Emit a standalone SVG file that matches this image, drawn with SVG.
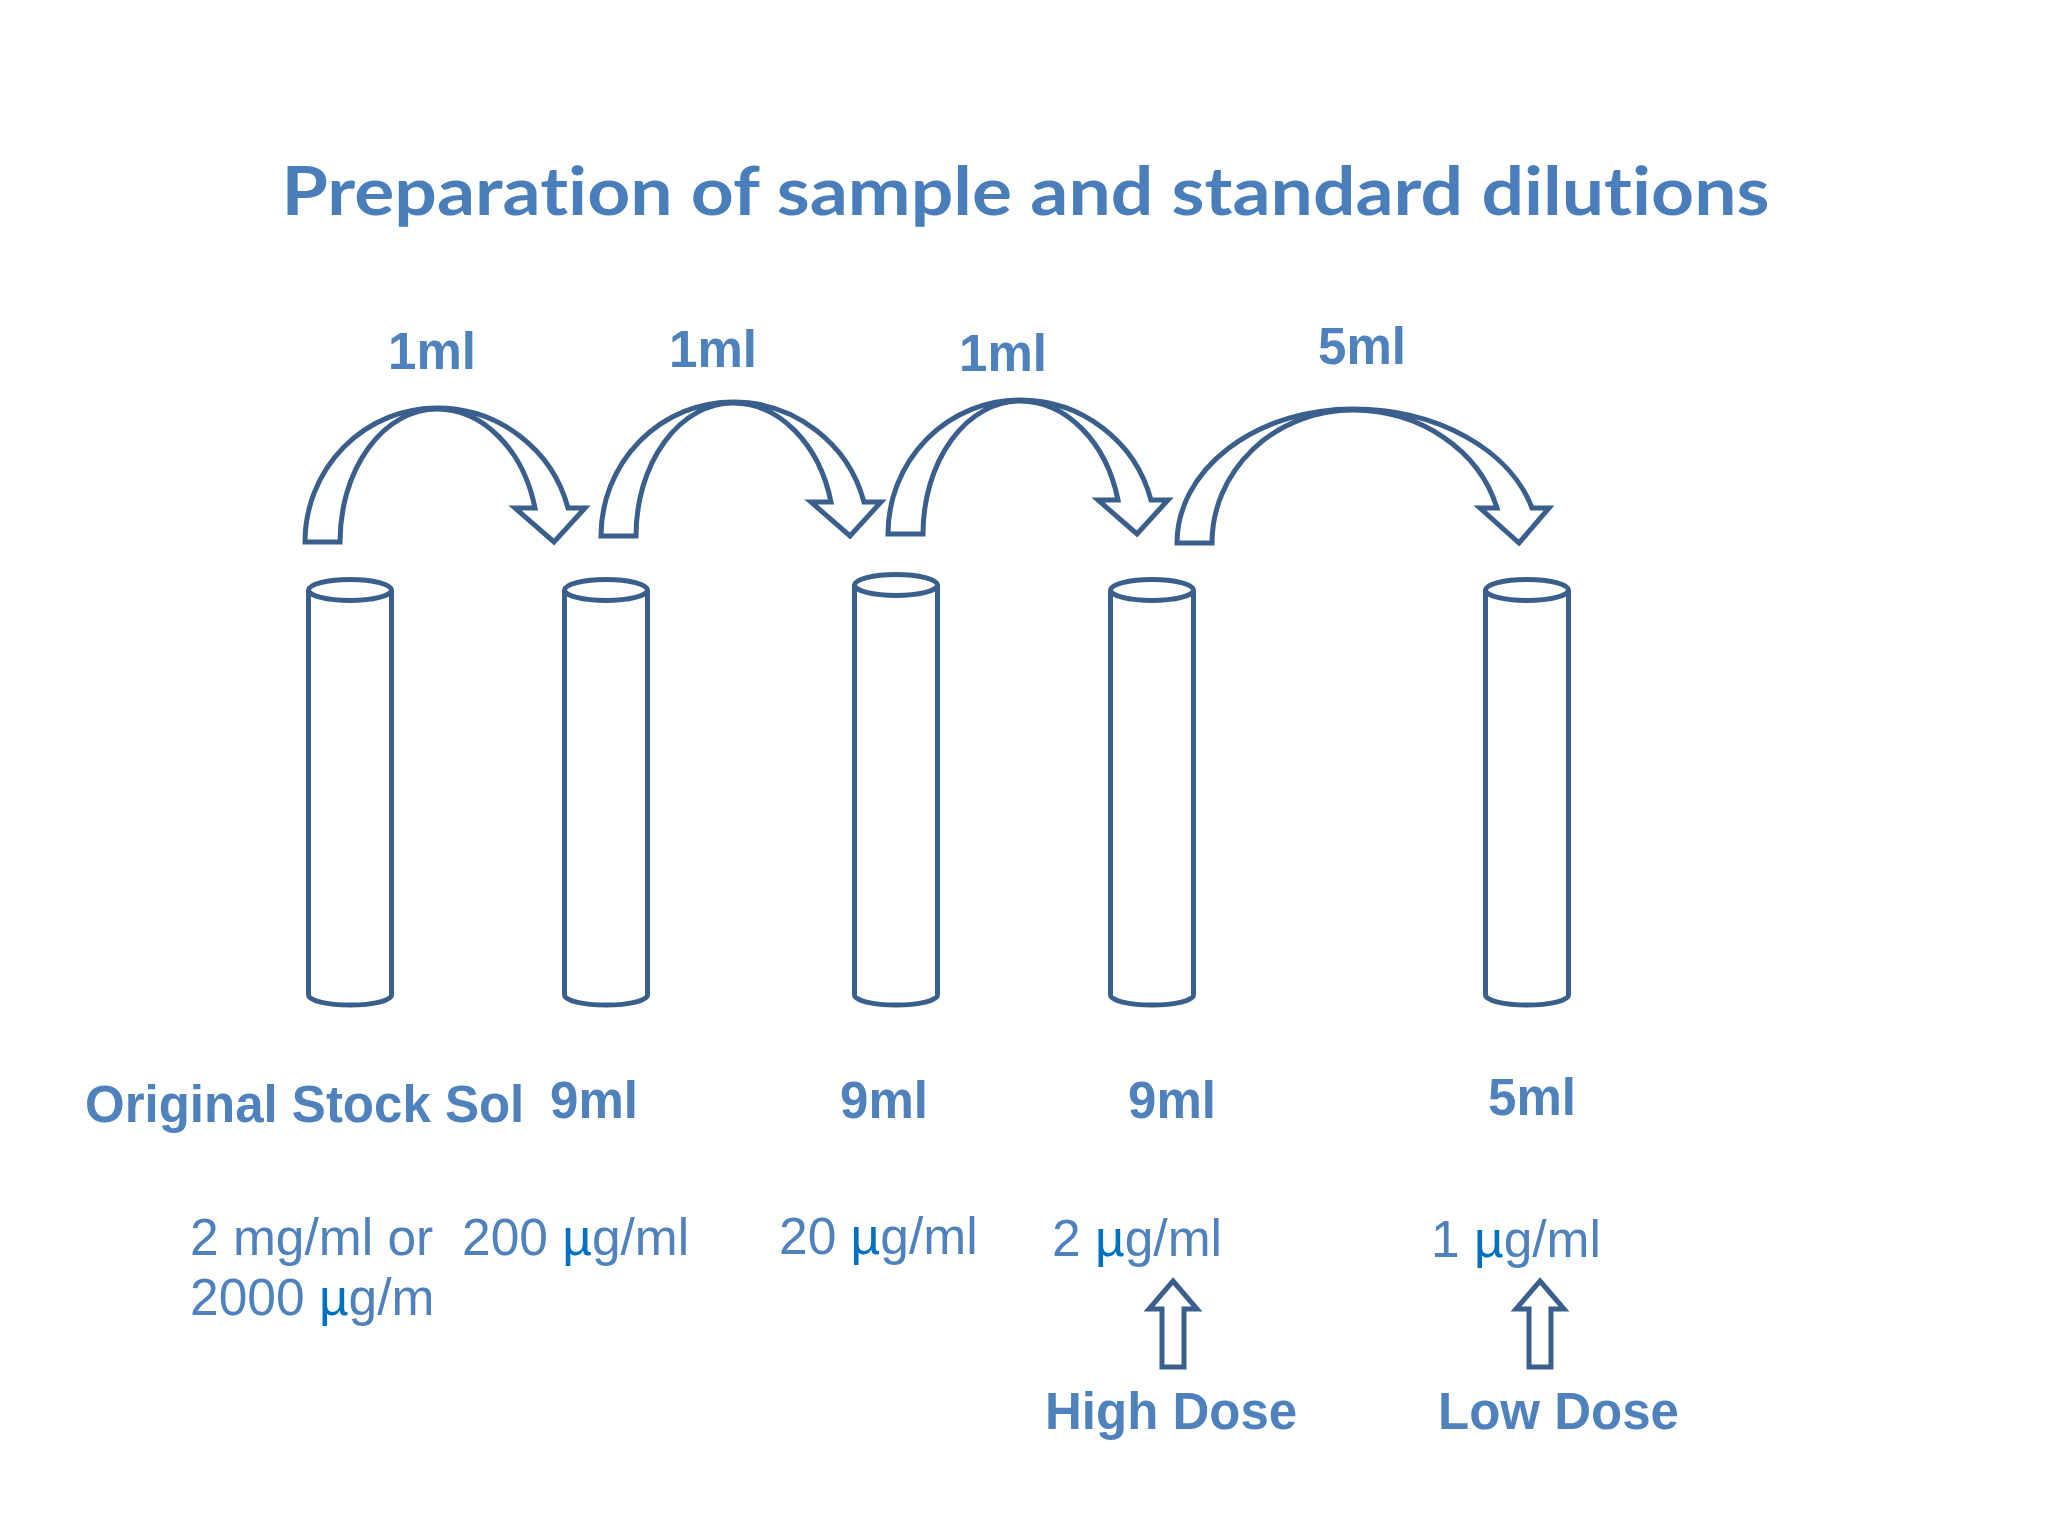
<svg xmlns="http://www.w3.org/2000/svg" xmlns:xlink="http://www.w3.org/1999/xlink" width="2048" height="1536" viewBox="0 0 2048 1536">
  <style>
    .shape { fill: #ffffff; stroke: #3b5f8c; stroke-width: 5; stroke-linejoin: miter; }
    .tube { fill: #ffffff; stroke: #3b5f8c; stroke-width: 5; }
    .title { font-family: Lato, "Open Sans", "Liberation Sans", sans-serif; font-weight: 700; font-size: 67px; fill: #4a7ebb; font-variant-ligatures: none; }
    .bold { font-family: "Liberation Sans", Arial, sans-serif; font-weight: 700; font-size: 51px; fill: #4f81bd; }
    .reg { font-family: "Liberation Sans", Arial, sans-serif; font-size: 51.5px; fill: #4f81bd; }
    .mu { fill: #0070c0; }
  </style>
  <defs>
    <path id="curveA" d="M -132,0 A 132 134 0 0 1 0,-134 A 135.4 134 0 0 1 131,-34 L 148,-34 L 117,0 L 78,-34 L 98,-34 A 101.4 133 0 0 0 0,-133 A 97 133 0 0 0 -97,0 Z"/>
    <path id="curveB" d="M -176,0 A 176 134 0 0 1 0,-134 A 185.4 134 0 0 1 179,-35 L 196,-35 L 166,0 L 127,-35 L 144,-35 A 149.3 133 0 0 0 0,-133 A 141 133 0 0 0 -141,0 Z"/>
    <path id="upArrow" d="M 0,1281 L 24,1309 L 11,1309 L 11,1367 L -11,1367 L -11,1309 L -24,1309 Z"/>
  </defs>
  <rect width="2048" height="1536" fill="#ffffff"/>

  <text id="title" class="title" x="1025.5" y="215" text-anchor="middle" textLength="1488" lengthAdjust="spacingAndGlyphs">Preparation of sample and standard dilutions</text>

  <g id="tube1">
    <path class="tube" d="M 308.5,590 L 308.5,995 A 41.5 10 0 0 0 391.5,995 L 391.5,590"/>
    <ellipse class="tube" cx="350" cy="590" rx="41.5" ry="10.5"/>
  </g>
  <g id="tube2">
    <path class="tube" d="M 564.5,590 L 564.5,995 A 41.5 10 0 0 0 647.5,995 L 647.5,590"/>
    <ellipse class="tube" cx="606" cy="590" rx="41.5" ry="10.5"/>
  </g>
  <g id="tube3">
    <path class="tube" d="M 854.5,585 L 854.5,995 A 41.5 10 0 0 0 937.5,995 L 937.5,585"/>
    <ellipse class="tube" cx="896" cy="585" rx="41.5" ry="10.5"/>
  </g>
  <g id="tube4">
    <path class="tube" d="M 1110.5,590 L 1110.5,995 A 41.5 10 0 0 0 1193.5,995 L 1193.5,590"/>
    <ellipse class="tube" cx="1152" cy="590" rx="41.5" ry="10.5"/>
  </g>
  <g id="tube5">
    <path class="tube" d="M 1485.5,590 L 1485.5,995 A 41.5 10 0 0 0 1568.5,995 L 1568.5,590"/>
    <ellipse class="tube" cx="1527" cy="590" rx="41.5" ry="10.5"/>
  </g>

  <g id="connectors">
    <use xlink:href="#curveA" href="#curveA" class="shape" transform="translate(437,542)"/>
    <use xlink:href="#curveA" href="#curveA" class="shape" transform="translate(733,536)"/>
    <use xlink:href="#curveA" href="#curveA" class="shape" transform="translate(1020,534)"/>
    <use xlink:href="#curveB" href="#curveB" class="shape" transform="translate(1353,543)"/>
    <use xlink:href="#upArrow" href="#upArrow" class="shape" transform="translate(1173,0)"/>
    <use xlink:href="#upArrow" href="#upArrow" class="shape" transform="translate(1540,0)"/>
  </g>

  <g id="transfer-labels">
    <text class="bold" x="432" y="369" text-anchor="middle">1ml</text>
    <text class="bold" x="713" y="367" text-anchor="middle">1ml</text>
    <text class="bold" x="1003" y="371" text-anchor="middle">1ml</text>
    <text class="bold" x="1362" y="364" text-anchor="middle">5ml</text>
  </g>

  <g id="volume-labels">
    <text class="bold" x="85" y="1122">Original Stock Sol</text>
    <text class="bold" x="594" y="1118" text-anchor="middle">9ml</text>
    <text class="bold" x="884" y="1118" text-anchor="middle">9ml</text>
    <text class="bold" x="1172" y="1118" text-anchor="middle">9ml</text>
    <text class="bold" x="1532" y="1115" text-anchor="middle">5ml</text>
  </g>

  <g id="concentration-labels">
    <text class="reg" x="190" y="1255">2 mg/ml or</text>
    <text class="reg" x="190" y="1315">2000 <tspan class="mu">µ</tspan>g/m</text>
    <text class="reg" x="462" y="1255">200 <tspan class="mu">µ</tspan>g/ml</text>
    <text class="reg" x="779" y="1254">20 <tspan class="mu">µ</tspan>g/ml</text>
    <text class="reg" x="1222" y="1256" text-anchor="end">2 <tspan class="mu">µ</tspan>g/ml</text>
    <text class="reg" x="1431" y="1257">1 <tspan class="mu">µ</tspan>g/ml</text>
  </g>

  <g id="dose-labels">
    <text class="bold" x="1045" y="1429">High Dose</text>
    <text class="bold" x="1438" y="1429">Low Dose</text>
  </g>
</svg>
